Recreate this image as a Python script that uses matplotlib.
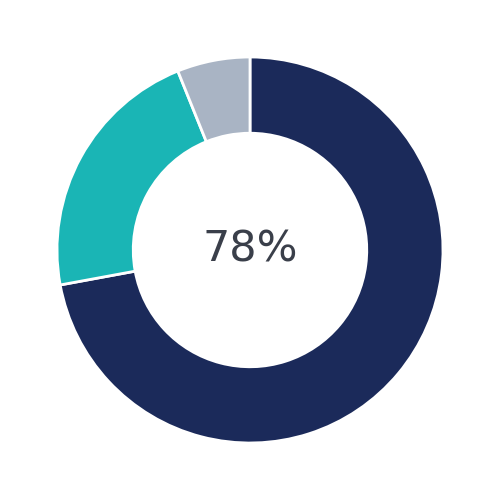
import matplotlib
matplotlib.use("Agg")
import matplotlib.pyplot as plt

labels = ["Navy", "Teal", "Gray"]
values = [72.1, 21.8, 6.1]
colors = ["#1b2a5a", "#1ab5b5", "#a9b4c4"]
center_text = "78%"

fig = plt.figure(figsize=(5, 5), dpi=100)
ax = fig.add_axes([0, 0, 1, 1])
ax.pie(values, colors=colors, startangle=90, counterclock=False,
       wedgeprops=dict(width=0.395, edgecolor="white", linewidth=2))
ax.text(0, 0, center_text, ha="center", va="center", fontsize=31, color="#3a3f4a")
lim = 250 / 193
ax.set_xlim(-lim, lim)
ax.set_ylim(-lim, lim)
ax.set_aspect("equal")
ax.axis("off")
fig.savefig("out.png", dpi=100)
